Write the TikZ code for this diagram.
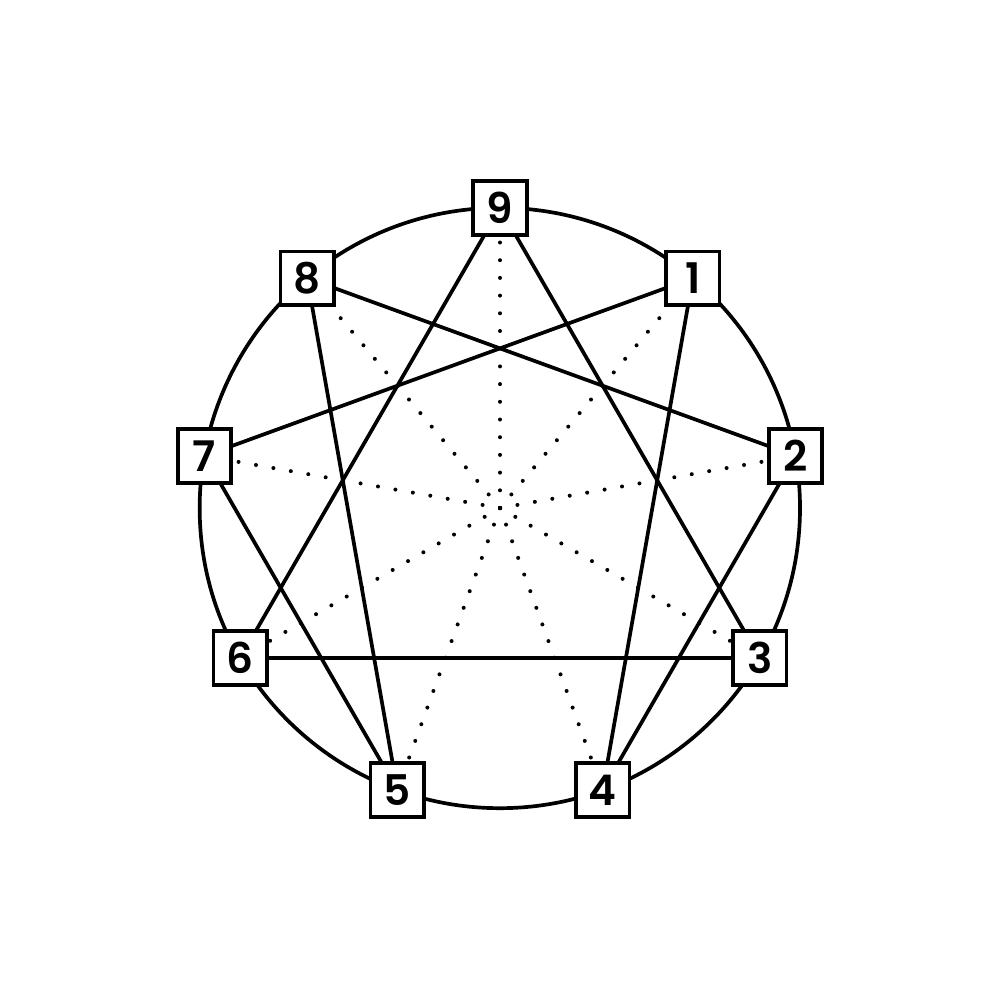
\documentclass[tikz,border=0pt]{standalone}
\usepackage{fontspec}
\setmainfont{Poppins}[BoldFont={Poppins SemiBold}]
\begin{document}
\begin{tikzpicture}[x=0.01cm,y=-0.01cm,
  numbox/.style={draw, fill=white, line width=1.05pt, minimum size=0.535cm, inner sep=0pt,
    font=\fontsize{12}{14}\selectfont\bfseries},
  edge/.style={line width=1.05pt},
  ring/.style={line width=1.05pt}]
\useasboundingbox[fill=white] (0,0) rectangle (1000,1000);
\coordinate (c) at (500,508);
\draw[ring] (c) ++(300,0) arc[start angle=0, end angle=360, radius=3cm];
% dotted rays
\foreach \a in {90,50,10,-30,-70,-110,-150,-190,-230}
  \foreach \k in {0,...,15}
    \fill ({500+17.7*\k*cos(\a)},{508-17.7*\k*sin(\a)}) circle[radius=0.02cm];
% node positions
\foreach \n/\a in {9/90,1/50,2/10,3/-30,4/-70,5/-110,6/-150,7/-190,8/-230}
  \coordinate (p\n) at ({500+300*cos(\a)},{508-300*sin(\a)});
% lines
\draw[edge] (p9) -- (p3) -- (p6) -- cycle;
\draw[edge] (p1) -- (p4) -- (p2) -- (p8) -- (p5) -- (p7) -- cycle;
% boxes
\foreach \n in {1,...,9}
  \node[numbox] (n\n) at (p\n) {\n};
\end{tikzpicture}
\end{document}
